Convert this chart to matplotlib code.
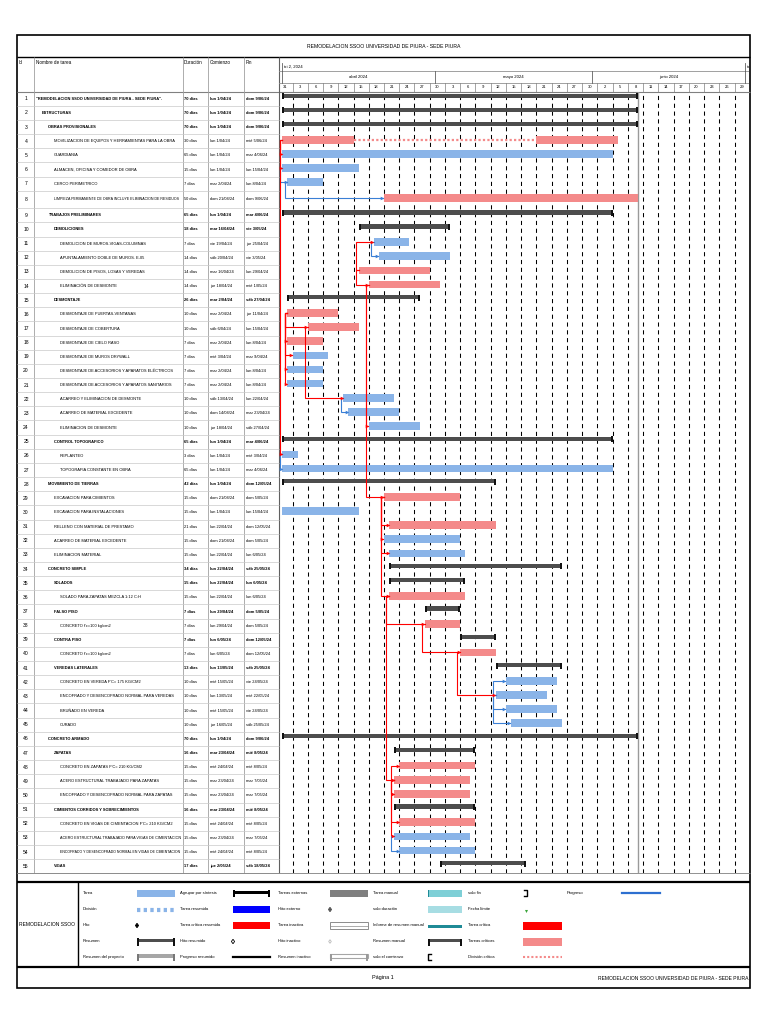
import matplotlib
matplotlib.use("Agg")
import matplotlib.pyplot as plt
from matplotlib.patches import Rectangle, Polygon
from datetime import date

plt.rcParams['font.family'] = ['Liberation Sans Narrow', 'Liberation Sans', 'DejaVu Sans']

# ---------------- DATA ----------------
project_title = "REMODELACION SSOO UNIVERSIDAD DE PIURA - SEDE PIURA"
task_ids = list(range(1, 56))
task_names = [
    '"REMODELACION SSOO UNIVERSIDAD DE PIURA - SEDE PIURA".',
    "ESTRUCTURAS",
    "OBRAS PROVISIONALES",
    "MOVILIZACION DE EQUIPOS Y HERRAMIENTAS PARA LA OBRA",
    "GUARDIANIA",
    "ALMACEN, OFICINA Y COMEDOR DE OBRA",
    "CERCO PERIMETRICO",
    "LIMPIEZA PERMANENTE DE OBRA INCLUYE ELIMINACION DE RESIDUOS",
    "TRABAJOS PRELIMINARES",
    "DEMOLICIONES",
    "DEMOLICION DE MUROS-VIGAS-COLUMNAS",
    "APUNTALAMIENTO DOBLE DE MUROS. E-05",
    "DEMOLICION DE PISOS, LOSAS Y VEREDAS",
    "ELIMINACIÓN DE DESMONTE",
    "DESMONTAJE",
    "DESMONTAJE DE PUERTAS-VENTANAS",
    "DESMONTAJE DE COBERTURA",
    "DESMONTAJE DE CIELO RASO",
    "DESMONTAJE DE MUROS DRYWALL",
    "DESMONTAJE DE ACCESORIOS Y APARATOS ELÉCTRICOS",
    "DESMONTAJE DE ACCESORIOS Y APARATOS SANITARIOS",
    "ACARREO Y ELIMINACION DE DESMONTE",
    "ACARREO DE MATERIAL EXCEDENTE",
    "ELIMINACION DE DESMONTE",
    "CONTROL TOPOGRAFICO",
    "REPLANTEO",
    "TOPOGRAFIA CONSTANTE EN OBRA",
    "MOVIMIENTO DE TIERRAS",
    "EXCAVACION PARA CIMIENTOS",
    "EXCAVACION PARA INSTALACIONES",
    "RELLENO CON MATERIAL DE PRESTAMO",
    "ACARREO DE MATERIAL EXCEDENTE",
    "ELIMINACION MATERIAL",
    "CONCRETO SIMPLE",
    "SOLADOS",
    "SOLADO PARA ZAPATAS MEZCLA 1:12 C:H",
    "FALSO PISO",
    "CONCRETO f'c=100 kg/cm2",
    "CONTRA PISO",
    "CONCRETO f'c=100 kg/cm2",
    "VEREDAS LATERALES",
    "CONCRETO EN VEREDA F'C= 175 KG/CM2",
    "ENCOFRADO Y DESENCOFRADO NORMAL PARA VEREDAS",
    "BRUÑADO EN VEREDA",
    "CURADO",
    "CONCRETO ARMADO",
    "ZAPATAS",
    "CONCRETO EN ZAPATAS F'C= 210 KG/CM2",
    "ACERO ESTRUCTURAL TRABAJADO PARA ZAPATAS",
    "ENCOFRADO Y DESENCOFRADO NORMAL PARA ZAPATAS",
    "CIMIENTOS CORRIDOS Y SOBRECIMIENTOS",
    "CONCRETO EN VIGAS DE CIMENTACION F'C= 210 KG/CM2",
    "ACERO ESTRUCTURAL TRABAJADO PARA VIGAS DE CIMENTACION",
    "ENCOFRADO Y DESENCOFRADO NORMAL EN VIGAS DE CIMENTACION",
    "VIGAS",
]
outline_levels = [1, 2, 3, 4, 4, 4, 4, 4, 3, 4, 5, 5, 5, 5, 4, 5, 5, 5, 5, 5,
                  5, 5, 5, 5, 4, 5, 5, 3, 4, 4, 4, 4, 4, 3, 4, 5, 4, 5, 4, 5,
                  4, 5, 5, 5, 5, 3, 4, 5, 5, 5, 4, 5, 5, 5, 4]
durations = ["70 días", "70 días", "70 días", "30 días", "65 días", "15 días", "7 días", "50 días",
             "65 días", "18 días", "7 días", "14 días", "14 días", "14 días", "26 días", "10 días",
             "10 días", "7 días", "7 días", "7 días", "7 días", "10 días", "10 días", "10 días",
             "65 días", "3 días", "65 días", "42 días", "15 días", "15 días", "21 días", "15 días",
             "15 días", "34 días", "15 días", "15 días", "7 días", "7 días", "7 días", "7 días",
             "13 días", "10 días", "10 días", "10 días", "10 días", "70 días", "16 días", "15 días",
             "15 días", "15 días", "16 días", "15 días", "15 días", "15 días", "17 días"]
start_labels = ["lun 1/04/24", "lun 1/04/24", "lun 1/04/24", "lun 1/04/24", "lun 1/04/24", "lun 1/04/24",
                "mar 2/04/24", "dom 21/04/24", "lun 1/04/24", "mar 16/04/24", "vie 19/04/24",
                "sáb 20/04/24", "mar 16/04/24", "jue 18/04/24", "mar 2/04/24", "mar 2/04/24",
                "sáb 6/04/24", "mar 2/04/24", "mié 3/04/24", "mar 2/04/24", "mar 2/04/24",
                "sáb 13/04/24", "dom 14/04/24", "jue 18/04/24", "lun 1/04/24", "lun 1/04/24",
                "lun 1/04/24", "lun 1/04/24", "dom 21/04/24", "lun 1/04/24", "lun 22/04/24",
                "dom 21/04/24", "lun 22/04/24", "lun 22/04/24", "lun 22/04/24", "lun 22/04/24",
                "lun 29/04/24", "lun 29/04/24", "lun 6/05/24", "lun 6/05/24", "lun 13/05/24",
                "mié 15/05/24", "lun 13/05/24", "mié 15/05/24", "jue 16/05/24", "lun 1/04/24",
                "mar 23/04/24", "mié 24/04/24", "mar 23/04/24", "mar 23/04/24", "mar 23/04/24",
                "mié 24/04/24", "mar 23/04/24", "mié 24/04/24", "jue 2/05/24"]
finish_labels = ["dom 9/06/24", "dom 9/06/24", "dom 9/06/24", "mié 5/06/24", "mar 4/06/24", "lun 15/04/24",
                 "lun 8/04/24", "dom 9/06/24", "mar 4/06/24", "vie 3/05/24", "jue 25/04/24",
                 "vie 3/05/24", "lun 29/04/24", "mié 1/05/24", "sáb 27/04/24", "jue 11/04/24",
                 "lun 15/04/24", "lun 8/04/24", "mar 9/04/24", "lun 8/04/24", "lun 8/04/24",
                 "lun 22/04/24", "mar 23/04/24", "sáb 27/04/24", "mar 4/06/24", "mié 3/04/24",
                 "mar 4/06/24", "dom 12/05/24", "dom 5/05/24", "lun 15/04/24", "dom 12/05/24",
                 "dom 5/05/24", "lun 6/05/24", "sáb 25/05/24", "lun 6/05/24", "lun 6/05/24",
                 "dom 5/05/24", "dom 5/05/24", "dom 12/05/24", "dom 12/05/24", "sáb 25/05/24",
                 "vie 24/05/24", "mié 22/05/24", "vie 24/05/24", "sáb 25/05/24", "dom 9/06/24",
                 "mié 8/05/24", "mié 8/05/24", "mar 7/05/24", "mar 7/05/24", "mié 8/05/24",
                 "mié 8/05/24", "mar 7/05/24", "mié 8/05/24", "sáb 18/05/24"]
# S = summary, T = task, C = critical task
bar_types = ["S", "S", "S", "C", "T", "T", "T", "C", "S", "S", "T", "T", "C", "C", "S", "C",
             "C", "C", "T", "T", "T", "T", "T", "T", "S", "T", "T", "S", "C", "T", "C", "T",
             "T", "S", "S", "C", "S", "C", "S", "C", "S", "T", "T", "T", "T", "S", "S", "C",
             "C", "C", "S", "C", "T", "T", "S"]
split_segments = {4: [("lun 1/04/24", "dom 14/04/24"), ("mar 21/05/24", "mié 5/06/24")]}
# start-to-start links (predecessor id, successor id)
links = [(4, 5), (4, 6), (6, 7), (7, 8), (13, 11), (11, 12), (13, 14), (16, 17), (16, 18),
         (16, 19), (16, 20), (16, 21), (17, 22), (22, 23), (14, 24), (4, 26), (26, 27),
         (14, 29), (29, 31), (29, 32), (29, 33), (29, 36), (36, 38), (38, 40), (40, 43),
         (43, 42), (43, 44), (43, 45), (36, 49), (49, 48), (49, 50), (49, 52), (49, 53), (53, 54)]
timeline_origin = date(2024, 3, 31)
scale_day_step = 3
month_names = ["abril 2024", "mayo 2024", "junio 2024"]
month_starts = [date(2024, 4, 1), date(2024, 5, 1), date(2024, 6, 1), date(2024, 7, 1)]
quarter_names = ["tri 2, 2024", "tri 3, 2024"]
quarter_starts = [date(2024, 4, 1), date(2024, 7, 1)]
project_finish = date(2024, 6, 10)

# ---------------- HELPERS ----------------
def day_of(label):
    d, m, y = label.split()[1].split("/")
    return (date(2000 + int(y), int(m), int(d)) - timeline_origin).days

def dnum(dt):
    return (dt - timeline_origin).days

W, H = 768, 1024
fig = plt.figure(figsize=(W / 100, H / 100), dpi=100)
fig.patch.set_facecolor("white")
renderer = fig.canvas.get_renderer()

# layout (pixels)
FL, FR = 17, 750
TOP, TITLE_B = 35, 57
HDR_B = 91.7
ROW_H, ROW8_H = 14.15, 17.5
COLS = [17, 34, 183, 208, 244, 279]
CH_L, CH_R = 279, 749
X0_PX, PXD = 277.3, 5.08

row_tops = []
yy = HDR_B
for i in range(len(task_ids)):
    row_tops.append(yy)
    yy += ROW8_H if i == 7 else ROW_H
ROWS_B = yy
row_c = [t + (ROW8_H if i == 7 else ROW_H) / 2 for i, t in enumerate(row_tops)]

BLUE = "#8AB4E8"
PINK = "#F48A8A"
SUMC = "#4D4D4D"
LINKB = "#3A7FD5"
LINKR = "#FF0000"
GRAYL = "#C9C9C9"

# page axes
ax0 = fig.add_axes([0, 0, 1, 1])
ax0.set_xlim(0, W)
ax0.set_ylim(H, 0)
ax0.axis("off")

def hl(y, x0, x1, lw=0.8, c="black"):
    ax0.plot([x0, x1], [y, y], color=c, lw=lw, solid_capstyle="butt")

def vl(x, y0, y1, lw=0.8, c="black"):
    ax0.plot([x, x], [y0, y1], color=c, lw=lw, solid_capstyle="butt")

def fit_text(t, xmax):
    bb = t.get_window_extent(renderer=renderer)
    if bb.x1 > xmax:
        left = bb.x0
        t.set_fontsize(t.get_fontsize() * (xmax - left) / (bb.x1 - left))

ax0.add_patch(Rectangle((FL, TOP), FR - FL, 988 - TOP, fill=False, lw=1.2, ec="black"))
hl(TITLE_B, FL, FR, 1.0)
hl(HDR_B, FL, FR, 0.8, "#808080")
for cx in COLS[1:-1]:
    vl(cx, TITLE_B, ROWS_B, 0.6, "#A0A0A0")
vl(CH_L, TITLE_B, ROWS_B, 0.8, "#606060")
for i, t in enumerate(row_tops):
    hl(t + (ROW8_H if i == 7 else ROW_H), FL, CH_L, 0.5, GRAYL)
hl(ROWS_B, FL, FR, 0.6, "#808080")
hl(882, FL, FR, 1.6)
hl(967.4, FL, FR, 1.6)
vl(78, 882, 967.4, 1.0)

ax0.text(384, 46, project_title, fontsize=3.7, ha="center", va="center")
FS_H = 3.3
ax0.text(19, 62, "Id", fontsize=FS_H, va="center")
ax0.text(36, 62, "Nombre de tarea", fontsize=FS_H, va="center")
ax0.text(184, 62, "Duración", fontsize=FS_H, va="center")
ax0.text(210, 62, "Comienzo", fontsize=FS_H, va="center")
ax0.text(246, 62, "Fin", fontsize=FS_H, va="center")

FS_T = 2.9
for i, tid in enumerate(task_ids):
    yc = row_c[i]
    bold = "bold" if bar_types[i] == "S" else "normal"
    ax0.text(26, yc, str(tid), fontsize=3.6, ha="center", va="center")
    tn = ax0.text(36 + 6 * (outline_levels[i] - 1), yc, task_names[i], fontsize=FS_T,
                  va="center", fontweight=bold)
    fit_text(tn, COLS[2] - 2.5)
    for cx, lab in ((184, durations[i]), (210, start_labels[i]), (246, finish_labels[i])):
        tt = ax0.text(cx, yc, lab, fontsize=FS_T, va="center", fontweight=bold)
        fit_text(tt, {184: COLS[3], 210: COLS[4], 246: COLS[5]}[cx] - 1.5)

# ---------------- TIMESCALE HEADER ----------------
xl = ((CH_L - X0_PX) / PXD, (CH_R - X0_PX) / PXD)
axh = fig.add_axes([CH_L / W, 1 - HDR_B / H, (CH_R - CH_L) / W, (HDR_B - TITLE_B) / H])
axh.set_xlim(*xl)
axh.set_ylim(HDR_B, TITLE_B)
axh.axis("off")
axh.plot(xl, [71, 71], color="#909090", lw=0.6)
axh.plot(xl, [82.7, 82.7], color="#909090", lw=0.6)
for qn, qs in zip(quarter_names, quarter_starts):
    q = dnum(qs)
    axh.plot([q, q], [63, 71], color="#606060", lw=0.6)
    axh.text(q + 0.4, 66.5, qn, fontsize=3.1, va="center", clip_on=True)
for k, mn in enumerate(month_names):
    a, b = dnum(month_starts[k]), dnum(month_starts[k + 1])
    axh.text((a + b) / 2, 76.5, mn, fontsize=3.1, ha="center", va="center", clip_on=True)
for ms in month_starts:
    m = dnum(ms)
    axh.plot([m, m], [71, 82.7], color="#606060", lw=0.6)
d = 0
while d < xl[1] + 3:
    axh.plot([d, d], [82.7, HDR_B], color="#808080", lw=0.5)
    lab = date.fromordinal(timeline_origin.toordinal() + d).day
    if d + 1.5 < xl[1]:
        axh.text(d + 1.5, 87.2, str(lab), fontsize=3.0, ha="center", va="center", clip_on=True)
    d += scale_day_step

# ---------------- GANTT ----------------
ax = fig.add_axes([CH_L / W, 1 - ROWS_B / H, (CH_R - CH_L) / W, (ROWS_B - HDR_B) / H])
ax.set_xlim(*xl)
ax.set_ylim(ROWS_B, HDR_B)
ax.axis("off")

for g in range(scale_day_step, int(xl[1]) + 1, scale_day_step):
    ax.axvline(g, color="black", lw=0.75, ls=(0, (4, 3.5)), zorder=0.5)
ax.axvline(dnum(project_finish), color="#9A9A9A", lw=1.0, zorder=0.6)

spans = []
for i in range(len(task_ids)):
    s = day_of(start_labels[i])
    f = day_of(finish_labels[i]) + 1
    spans.append((s, f))

bar_y = []
for i, typ in enumerate(bar_types):
    s, f = spans[i]
    yc = row_c[i]
    if typ == "S":
        by = yc - 3.0
        bar_y.append(by)
        ax.add_patch(Rectangle((s, by - 2.2), f - s, 4.4, color=SUMC, lw=0, zorder=3))
        cw = 0.4
        ax.add_patch(Rectangle((s, by - 2.6), cw, 6.0, color="#111111", lw=0, zorder=3.1))
        ax.add_patch(Rectangle((f - cw, by - 2.6), cw, 6.0, color="#111111", lw=0, zorder=3.1))
    else:
        by = yc - 1.5
        bar_y.append(by)
        col = PINK if typ == "C" else BLUE
        tid = task_ids[i]
        if tid in split_segments:
            segs = [(day_of(a), day_of(b) + 1) for a, b in split_segments[tid]]
            for (a, b) in segs:
                ax.add_patch(Rectangle((a, by - 3.8), b - a, 7.6, color=col, lw=0, zorder=3))
            for (a0, b0), (a1, b1) in zip(segs[:-1], segs[1:]):
                ax.plot([b0, a1], [by, by], color=col, lw=1.6, ls=(0, (1, 1)), zorder=2.9)
        else:
            ax.add_patch(Rectangle((s, by - 3.8), f - s, 7.6, color=col, lw=0, zorder=3))

for p, q in links:
    pi, qi = p - 1, q - 1
    ps = spans[pi][0]
    qs = spans[qi][0]
    yp, yq = bar_y[pi], bar_y[qi]
    vx = min(ps, qs) - 0.55
    col = LINKR if bar_types[pi] == "C" else LINKB
    ax.plot([ps, vx, vx, qs - 0.2], [yp, yp, yq, yq], color=col, lw=0.8, zorder=4,
            solid_joinstyle="miter")
    ax.plot([qs - 0.3], [yq], marker=">", ms=2.6, color=col, mew=0, zorder=4.1)

# ---------------- LEGEND ----------------
ax0.text(47, 925, "REMODELACION SSOO", fontsize=3.6, ha="center", va="center")
lrows = [893, 909.5, 925.5, 941.5, 957]
lab_x = [83, 180, 278, 373, 468, 567]
sym_x = [(137, 175), (233, 270), (330, 368), (428, 462), (523, 562), (622, 660)]
legend_labels = [
    ["Tarea", "Agrupar por síntesis", "Tareas externas", "Tarea manual", "solo fin", "Progreso"],
    ["División", "Tarea resumida", "Hito externo", "solo duración", "Fecha límite", None],
    ["Hito", "Tarea crítica resumida", "Tarea inactiva", "Informe de resumen manual", "Tarea crítica", None],
    ["Resumen", "Hito resumido", "Hito inactivo", "Resumen manual", "Tareas críticas", None],
    ["Resumen del proyecto", "Progreso resumido", "Resumen inactivo", "solo el comienzo", "División crítica", None],
]
for r, row in enumerate(legend_labels):
    for c, lab in enumerate(row):
        if lab:
            lt = ax0.text(lab_x[c], lrows[r], lab, fontsize=3.0, va="center")
            fit_text(lt, sym_x[c][0] - 1.5)

def lrect(c, r, color, h=7, ec=None, lw=0):
    x0, x1 = sym_x[c]
    ax0.add_patch(Rectangle((x0, lrows[r] - h / 2), x1 - x0, h, fc=color,
                            ec=ec if ec else color, lw=lw))

def lbracket(c, r, color, capc, h=3.5, hollow=False):
    x0, x1 = sym_x[c]
    y = lrows[r] - 1
    if hollow:
        ax0.add_patch(Rectangle((x0, y - h / 2), x1 - x0, h, fc="white", ec=color, lw=0.8))
    else:
        ax0.add_patch(Rectangle((x0, y - h / 2), x1 - x0, h, fc=color, lw=0))
    ax0.add_patch(Rectangle((x0, y - h / 2 - 0.5), 1.8, h + 4, fc=capc, lw=0))
    ax0.add_patch(Rectangle((x1 - 1.8, y - h / 2 - 0.5), 1.8, h + 4, fc=capc, lw=0))

def ldiamond(x, y, fc, ec, s=2.2):
    ax0.add_patch(Polygon([(x, y - s * 1.4), (x + s, y), (x, y + s * 1.4), (x - s, y)],
                          closed=True, fc=fc, ec=ec, lw=0.6))

# row 0
lrect(0, 0, BLUE)
lbracket(1, 0, "black", "black", h=3.0)
lrect(2, 0, "#7F7F7F")
lrect(3, 0, "#7ECFD6")
ax0.add_patch(Rectangle((sym_x[3][0], lrows[0] - 3.5), 1.3, 7, fc="#1F8A96", lw=0))
ax0.plot([524, 526.5, 526.5, 524], [lrows[0] - 3, lrows[0] - 3, lrows[0] + 3, lrows[0] + 3],
         color="black", lw=1.0)
ax0.plot(sym_x[5], [lrows[0], lrows[0]], color="#2D6FD0", lw=1.6)
# row 1
ax0.plot(sym_x[0], [lrows[1], lrows[1]], color=BLUE, lw=3.0, ls=(0, (0.8, 0.8)))
lrect(1, 1, "#0000FF")
ldiamond(330, lrows[1], "#555555", "#555555", 1.6)
lrect(3, 1, "#A7DDE3")
ax0.plot([526], [lrows[1] + 1], marker="v", ms=2.2, color="#3BA53B", mew=0)
# row 2
ldiamond(137, lrows[2], "black", "black", 1.6)
lrect(1, 2, "#FF0000")
lrect(2, 2, "white", h=7, ec="#8C8C8C", lw=0.7)
ax0.plot(sym_x[2], [lrows[2], lrows[2]], color="#8C8C8C", lw=0.5)
ax0.add_patch(Rectangle((sym_x[3][0], lrows[2] - 0.5), sym_x[3][1] - sym_x[3][0], 3.2, fc="#1F8A96", lw=0))
lrect(4, 2, "#FF0000", h=8)
# row 3
lbracket(0, 3, SUMC, "#111111", h=3.5)
ldiamond(233, lrows[3], "white", "black", 1.6)
ldiamond(330, lrows[3], "white", "#BBBBBB", 1.3)
lbracket(3, 3, SUMC, "#111111", h=3.0)
lrect(4, 3, PINK, h=8)
# row 4
lbracket(0, 4, "#A6A6A6", "#777777", h=3.5)
ax0.plot(sym_x[1], [lrows[4], lrows[4]], color="black", lw=1.6)
lbracket(2, 4, "#A6A6A6", "#999999", h=3.5, hollow=True)
ax0.plot([430.5, 428, 428, 430.5], [lrows[4] - 3, lrows[4] - 3, lrows[4] + 3, lrows[4] + 3],
         color="black", lw=1.0)
ax0.plot(sym_x[4], [lrows[4], lrows[4]], color=PINK, lw=1.5, ls=(0, (1, 1)))

# ---------------- FOOTER ----------------
ax0.text(383, 978, "Página 1", fontsize=4.0, ha="center", va="center")
ax0.text(748, 978, project_title, fontsize=3.6, ha="right", va="center")

fig.savefig("out.png", dpi=100, facecolor="white")
